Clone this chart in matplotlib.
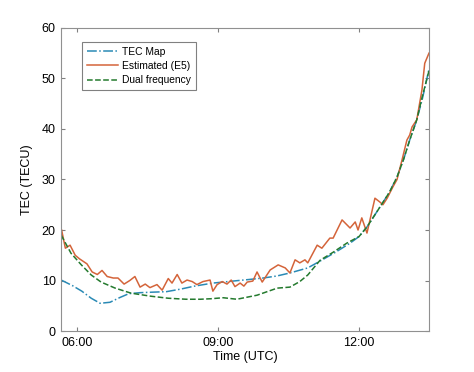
import matplotlib
matplotlib.use("Agg")
from matplotlib import pyplot as plt

plt.rcParams['font.family'] = ['Liberation Sans', 'DejaVu Sans']

# temps en heures UTC
h_map = [5.66, 5.9, 6.1, 6.3, 6.49, 6.7, 6.9, 7.1, 7.34, 7.6, 7.9, 8.2,
         8.5, 8.89, 9.32, 9.65, 9.96, 10.25, 10.53, 10.91, 11.2, 11.5,
         11.81, 12.0, 12.17, 12.45, 12.65, 12.81, 12.95, 13.08, 13.23,
         13.35, 13.49]
tec_map = [10.1, 9.0, 7.9, 6.5, 5.5, 5.7, 6.6, 7.4, 7.6, 7.7, 7.8, 8.3,
           8.9, 9.5, 9.9, 10.2, 10.5, 10.9, 11.5, 12.5, 14.0, 15.6,
           17.4, 18.7, 20.6, 24.6, 27.5, 30.5, 34.0, 37.8, 41.8,
           46.0, 51.8]

h_dual = [5.66, 5.87, 6.09, 6.3, 6.51, 6.81, 7.15, 7.57, 7.94, 8.32,
          8.62, 8.85, 9.11, 9.4, 9.83, 10.26, 10.53, 10.74, 10.91, 11.17,
          11.45, 11.74, 12.0, 12.17, 12.45, 12.65, 12.81, 12.95, 13.08,
          13.23, 13.35, 13.49]
tec_dual = [19.0, 15.4, 13.1, 11.1, 9.7, 8.5, 7.5, 6.9, 6.5, 6.3,
            6.3, 6.4, 6.6, 6.3, 7.1, 8.5, 8.7, 9.8, 11.1, 14.0,
            15.6, 17.4, 18.7, 20.6, 24.6, 27.5, 30.5, 34.0, 37.8,
            41.8, 46.5, 51.5]

h_est = [5.67, 5.75, 5.85, 5.96, 6.05, 6.21, 6.32, 6.43, 6.53, 6.64,
         6.77, 6.87, 7.0, 7.12, 7.23, 7.34, 7.45, 7.55, 7.70, 7.81,
         7.94, 8.02, 8.13, 8.23, 8.34, 8.45, 8.55, 8.68, 8.83, 8.89,
         8.98, 9.09, 9.19, 9.28, 9.36, 9.47, 9.55, 9.62, 9.74, 9.83,
         9.94, 10.11, 10.28, 10.43, 10.53, 10.64, 10.74, 10.85, 10.91, 11.11,
         11.21, 11.38, 11.45, 11.64, 11.81, 11.92, 11.98, 12.06, 12.17, 12.34,
         12.45, 12.51, 12.6, 12.72, 12.81, 12.92, 13.02, 13.08, 13.13, 13.23,
         13.34, 13.4, 13.49]
tec_est = [20.0, 16.4, 17.0, 15.0, 14.3, 13.3, 11.7, 11.2, 12.0, 10.8,
           10.5, 10.5, 9.3, 10.0, 10.8, 8.7, 9.3, 8.6, 9.2, 8.1,
           10.4, 9.5, 11.2, 9.5, 10.1, 9.8, 9.2, 9.8, 10.1, 7.9,
           9.2, 9.8, 9.3, 10.1, 8.8, 9.5, 8.9, 9.7, 9.9, 11.7,
           9.7, 12.1, 13.1, 12.5, 11.5, 14.1, 13.5, 14.1, 13.5, 17.0,
           16.4, 18.4, 18.4, 22.0, 20.4, 21.6, 20.0, 22.4, 19.4, 26.3,
           25.5, 25.0, 26.3, 28.5, 30.0, 34.0, 37.8, 38.8, 40.4, 41.8,
           47.7, 53.0, 55.0]

tick_pos = [6, 9, 12]
tick_lbl = ["06:00", "09:00", "12:00"]

fig = plt.figure(figsize=(4.74, 3.72), dpi=100)
ax = fig.add_axes([0.129, 0.110, 0.776, 0.815])

ax.plot(h_map, tec_map, color='#2a8ab5', linestyle='-.', lw=1.1, label='TEC Map')
ax.plot(h_est, tec_est, color='#d4643a', linestyle='-', lw=1.1, label='Estimated (E5)')
ax.plot(h_dual, tec_dual, color='#247a2e', linestyle='--', lw=1.1, label='Dual frequency')

ax.set_xlim(5.66, 13.49)
ax.set_ylim(0, 60)
ax.set_xticks(tick_pos)
ax.set_xticklabels(tick_lbl)
ax.set_yticks(range(0, 61, 10))
ax.tick_params(direction='in', top=True, right=True, length=3,
               labelsize=9, color='#808080', pad=4)
for s in ax.spines.values():
    s.set_color('#909090')
ax.set_xlabel('Time (UTC)', fontsize=9, labelpad=2)
ax.set_ylabel('TEC (TECU)', fontsize=9, labelpad=6)

leg = ax.legend(loc='upper left', bbox_to_anchor=(0.057, 0.955), fontsize=7.4,
                fancybox=False, framealpha=1, edgecolor='#808080',
                handlelength=3.0, borderpad=0.5, labelspacing=0.42,
                handletextpad=0.4, borderaxespad=0)
leg.get_frame().set_linewidth(0.8)

fig.savefig('out.png', dpi=100)
